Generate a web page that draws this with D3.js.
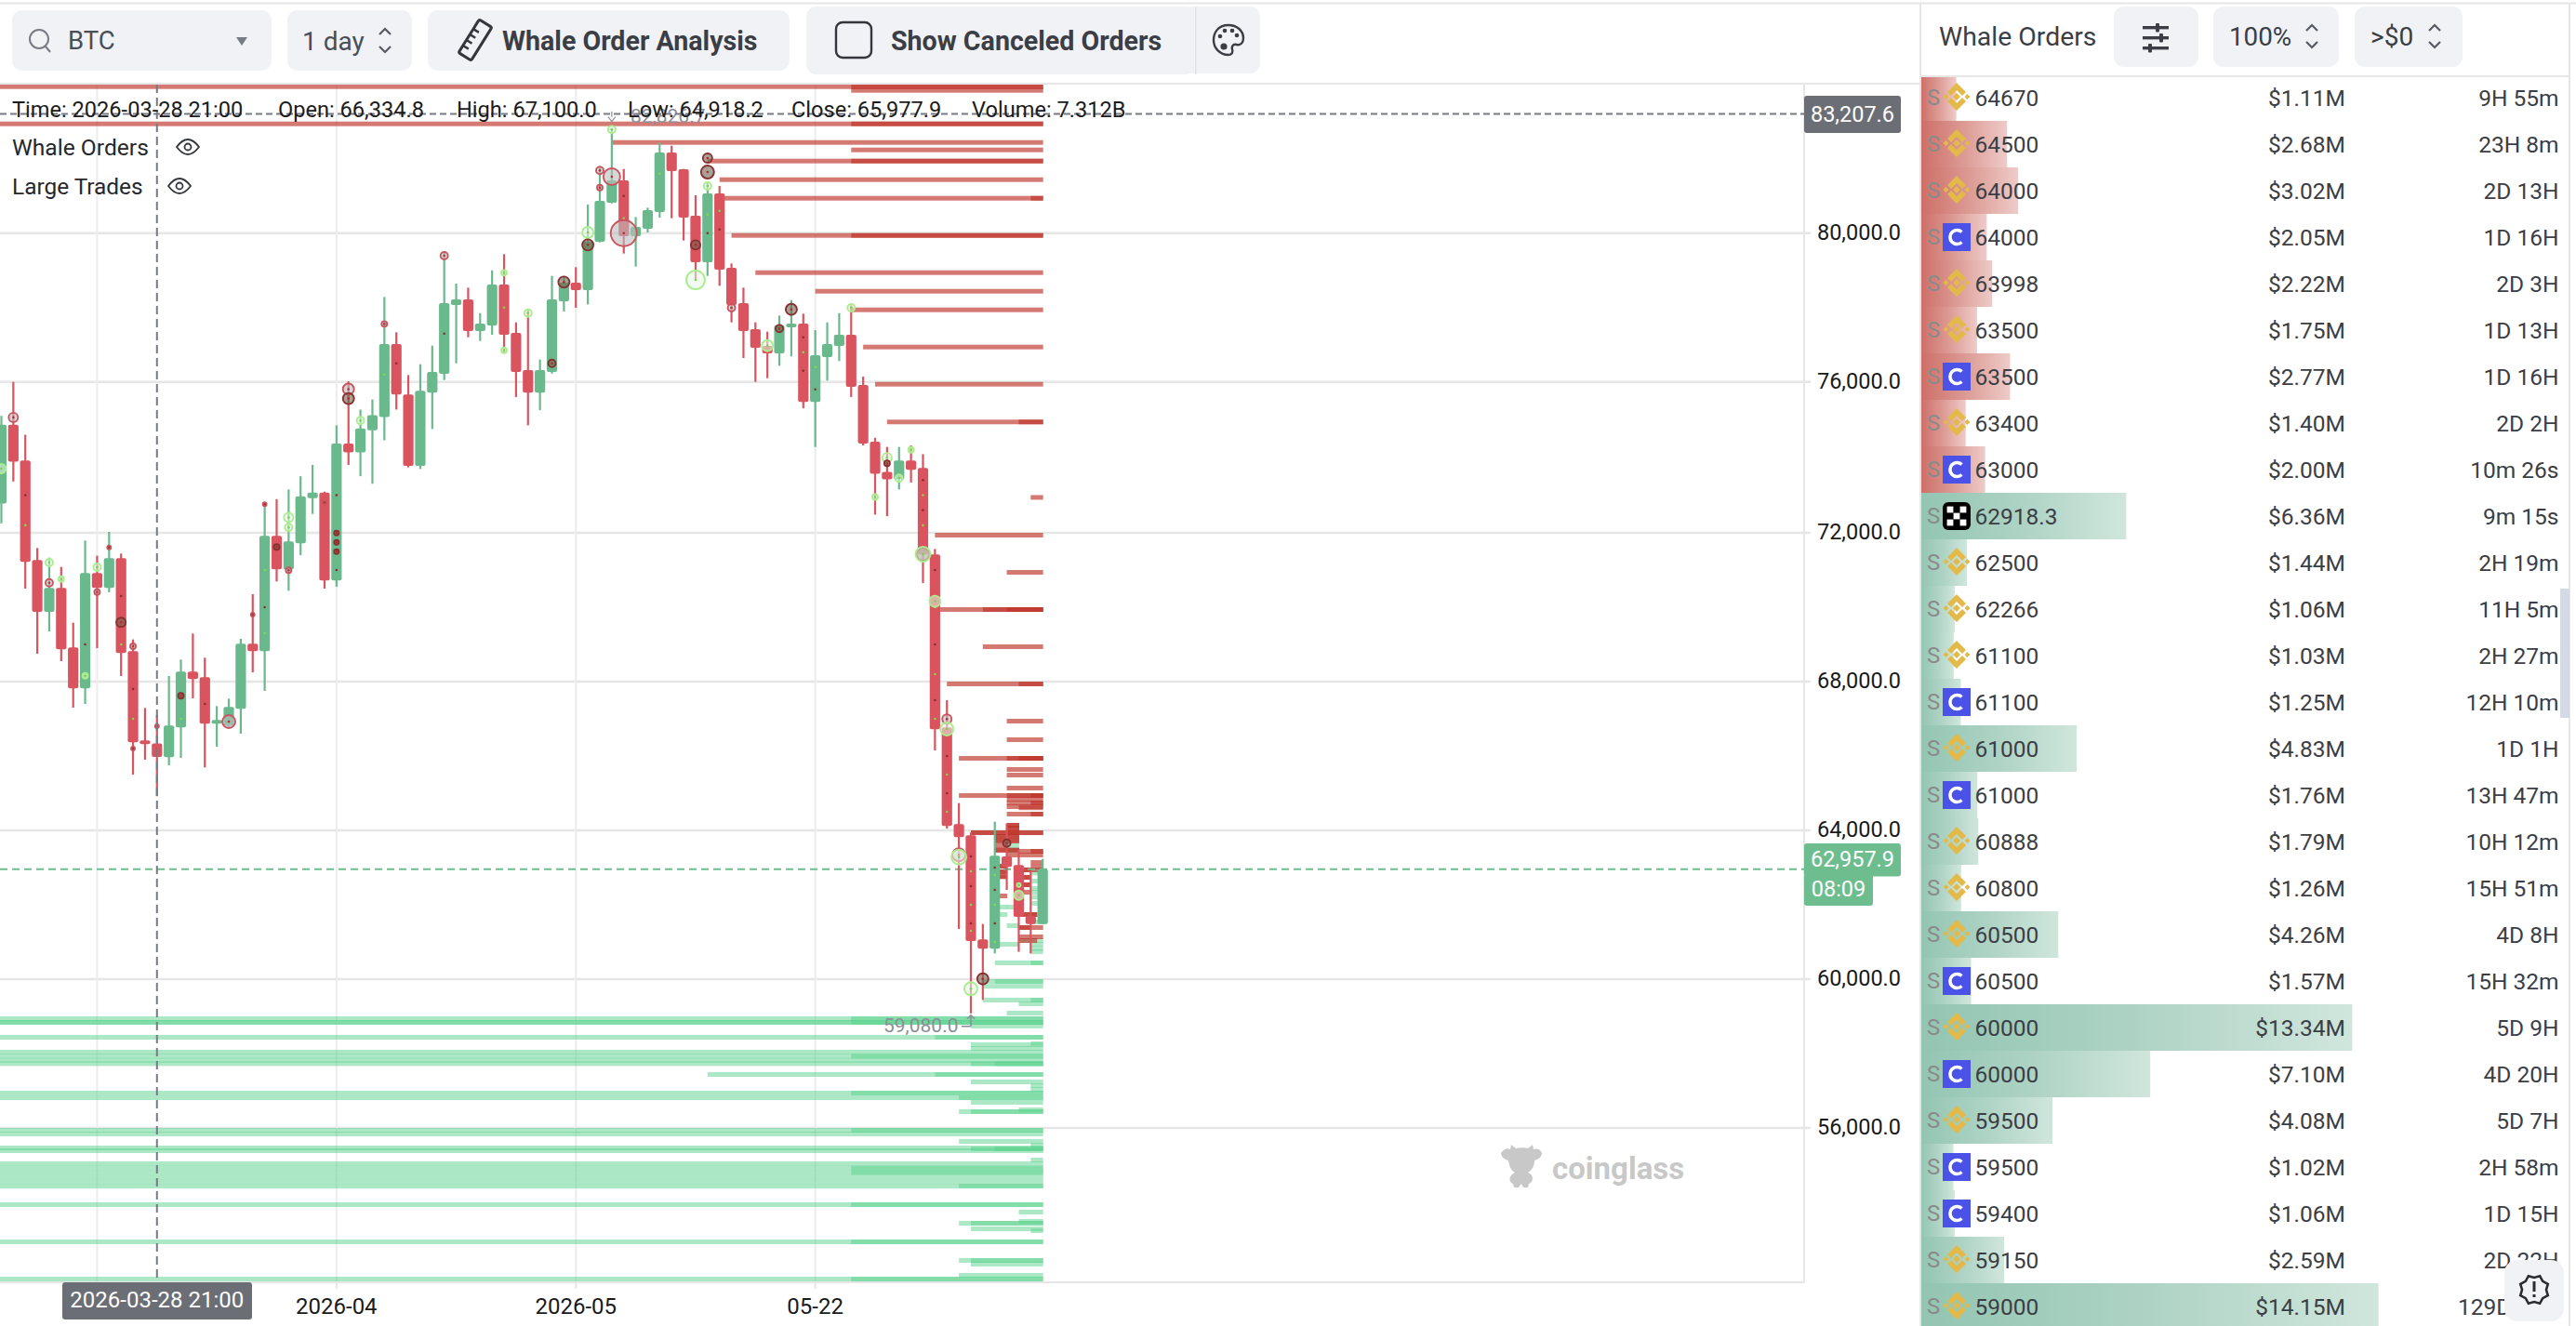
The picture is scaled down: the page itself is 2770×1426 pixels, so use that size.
<!DOCTYPE html>
<html><head><meta charset="utf-8">
<script src="https://cdn.jsdelivr.net/npm/d3@7/dist/d3.min.js"></script>
<style>
html,body{margin:0;padding:0;background:#fff;overflow:hidden}
svg{display:block}
text{font-family:Roboto,"Open Sans",sans-serif}
</style></head><body>
<svg id="c" width="2770" height="1426" viewBox="0 0 2770 1426"></svg>
<script>
// ---------- candles (one entry per bar, index order) ----------
const opens=[72775,74867,73917,71267,69875,70517,68917,67817,70917,70517,71317,68817,66417,66334.8,65967,66767,68267,68117,66867,66817,67267,69017,68817,71917,71017,71717,72917,73067,70717,74367,74134,74717,75067,77017,75667,73775,75717,76217,78067,78217,77367,77517,78617,77317,76317,75717,76267,78167,78667,78467,79767,80817,81417,79917,80117,80567,82167,81717,80467,79217,81067,79067,78117,77417,76967,76767,77467,77567,75467,76667,76967,77267,75917,74417,73617,73417,73917,73717,71417,66767,64167,63867,61067,60817,63300,63067,61692,61484];
const highs=[75100,76000,74600,71592,71334,71084,69584,71792,71384,72025,71442,69134,67292,67100,68150,68592,69292,68642,67342,67542,69150,70350,72792,72892,73150,73500,73800,73092,74850,76017,75267,75534,78284,77334,76184,76475,76975,79475,78642,78534,77850,79000,79434,77600,77934,76600,78850,78850,79084,80767,81809,82826.7,81725,80434,80684,82434,82350,81725,81017,81350,81267,79184,78534,77600,77350,77784,78200,77834,77392,77600,77850,78059,76142,74517,74275,74275,74317,74084,71567,67500,64734,63942,61484,64234,64184,63484,62900,63234];
const lows=[72250,73359,70500,68750,69350,68550,67300,67400,68900,70400,68150,65500,65900,64918.2,65750,65950,67550,65692,66250,66750,66600,68250,67750,70692,70442,71400,72500,70500,70550,73800,73500,73300,74450,75267,73734,73692,74750,76050,76500,77200,77100,77267,76767,75600,74850,75250,76225,77892,77992,78084,79750,80800,79450,79100,80017,80417,80400,79800,78767,78850,78584,77600,76642,76000,76100,76434,76684,75300,74275,76034,76559,75600,74317,72484,72442,73150,73334,70650,66150,64050,61350,59080,59442,60692,62400,60734,60692,61484];
const closes=[74867,73884,71217,69875,70517,68867,67817,70917,70517,71317,68767,66367,66317,65977.9,66817,68267,68067,66867,66967,67317,69017,68817,71917,71017,71767,72967,73067,70717,74367,74134,74767,75117,77017,75667,73775,75767,76267,78117,78217,77367,77567,78617,77267,76267,75717,76317,78217,78667,78467,79767,80867,81417,79917,80167,80617,82167,81667,80417,79217,81067,79017,78067,77367,76917,76767,77517,77567,75467,76717,77017,77267,75867,74367,73567,73417,73917,73667,71417,66717,64117,63817,61025,60817,63317,63017,61675,61484,62957.9];

// ---------- whale orders: price, first bar, last bar ----------
const L=-120;
const sellOrders=[[84000,L,87],[84000,71,87],[83900,71,87],[83000,L,87],[83000,71,87],[82500,51,87],[82300,71,87],[82000,59,87],[82000,71,87],[81500,60,87],[81000,60.4,87],[81000,86,87],[80000,61,87],[80000,71,87],[79000,63,87],[78500,68,87],[78000,71,87],[77000,72,87],[76000,73,87],[75000,74,87],[75000,85,87],[73000,86,87],[72000,78,87],[71000,84,87],[70000,78,87],[70000,82,87],[70000,84,87],[69000,82,87],[68000,79,87],[68000,85,87],[67000,84,87],[66500,84,87],[66000,80,87],[66000,84,87],[66000,85,87],[65700,84,87],[65550,84,87],[65200,84,87],[65000,80,87],[65000,84,87],[65000,86,87],[64900,84,87],[64800,84,87],[64800,86,87],[64700,84,87],[64670,85,87],[64500,84,87],[64500,86,87],[64200,84,85],[64200,84,85],[64120,84,85],[64120,84,85],[64000,81,87],[64000,81,85],[63998,84,87],[63900,83,85],[63900,83,85],[63780,83,85],[63780,83,85],[63650,83,84],[63530,83,85],[63530,83,85],[63500,85,87],[63500,86,87],[63400,84,85],[63400,85,87],[63200,86,87],[63100,83,84],[63100,83,84],[63080,86,87],[63000,85,87],[63000,85,86],[62950,83,84],[62950,83,84],[62820,83,84],[62820,83,84],[62800,85,86],[62800,85,86],[62600,85,86],[62600,85,86],[62400,85,86],[62300,83.3,84],[61800,85,86.5],[61800,85,86.5],[61450,85,87],[61450,85,86],[61200,85,87],[61100,85,86.5]];
const buyOrders=[[63650,84,85],[63530,84,85],[62918.3,86,87],[62700,86,87],[62500,86,87],[62400,86,87],[62266,86,87],[62100,86,87],[62000,83,84],[62000,84,85],[61800,83,84],[61800,86,87],[61600,86,87],[61500,84,85],[61100,85,86],[61100,86,87],[61000,83,85],[61000,86,87],[60888,86,87],[60800,86,87],[60500,83,87],[60500,86,87],[60000,82,87],[60000,83,87],[59870,82,87],[59500,82,87],[59500,86,87],[59400,85,87],[59150,84,87],[59000,L,87],[59000,71,87],[58900,L,87],[58900,L,87],[58900,71,87],[58800,81,87],[58500,L,87],[58500,78,87],[58330,86,87],[58300,81,87],[58200,81,87],[58100,L,87],[57990,L,87],[57990,71,87],[57880,L,87],[57790,L,87],[57790,81,87],[57790,83,87],[57500,59,87],[57500,78,87],[57300,81,87],[57200,86,87],[57100,86,87],[57000,L,87],[57000,71,87],[56875,L,87],[56875,80,87],[56750,81,87],[56550,85,87],[56500,80,87],[56500,81,87],[56000,L,87],[56000,71,87],[55900,L,87],[55700,80,87],[55600,86,87],[55525,L,87],[55450,L,87],[55500,81,87],[55500,83,87],[55200,86,87],[55100,L,87],[54980,L,87],[54980,71,87],[54860,L,87],[54860,71,87],[54740,L,87],[54620,L,87],[54500,L,87],[54500,80,87],[54000,L,87],[54000,71,87],[53800,85,87],[53550,85,87],[53500,80,87],[53500,81,87],[53350,81,87],[53300,86,87],[53000,L,87],[53000,71,87],[52500,80,87],[52500,81,87],[52400,81,87],[52100,80,87],[52000,L,87],[52000,71,87]];

// ---------- large trades: bar, price, size, side ----------
const tradeBar=[52,51,49,49,50,50,51,47,59,59,59,58,58,66,71,61,64,65,37,44,42,42,46,32,29,29,1,30,0,4,4,5,7,8,8,9,10,11,11,13,15,19,21,22,23,24,24,24,27,28,28,28,74,74,75,76,73,77,77,78,79,79,80,80,81,82,85,85,84];
const tradePrice=[80000,81517,80017,79684,81684,81225,82784,78684,82017,81642,81267,78742,79684,77950,77992,77992,76975,77434,79392,77850,78934,76850,76500,77559,75809,75559,75058,74975,73700,71200,70658,70758,68158,71075,70408,71608,69592,68950,66200,66800,67617,66925,69800,72758,71617,72408,72142,70992,72808,71992,71742,71492,73992,73842,73450,74200,72950,71425,71425,70158,66992,66725,63342,63283,59742,60008,62258,62533,63658];
const tradeSize=[14,9,6,6,4,3,4,6,5,7,4,10,5,6,4,4,6,4,4,4,3,3,4,3,6,6,5,4,5,4,4,3,3,4,3,2,5,3,2,2,3,7,2,2,3,5,4,3,2,2.5,2.5,2.5,5,3,4,3,3,7,8,6,5,7,7,8,7,6,5,2,4];
const tradeSide=["r","r","g","d","r","r","g","d","d","d","g","g","d","d","g","r","g","d","r","g","g","g","d","r","r","d","r","g","g","g","r","g","g","g","r","r","d","r","r","r","d","r","r","r","d","g","g","r","r","d","d","d","g","d","g","g","g","d","g","g","r","g","r","g","g","d","g","g","d"];
const speckBar=[78,78,78,78,78,78,79,79,79,79,81,81,81,81,81,81,83,83,83,83,83,83,77,77,77,77,67,67,67,68,68,60,60,59,59,55,52,52,37,42,33,32,28,28,28,22,22,22,10,10,7,7,2,2,11,11,17,15];
const speckPrice=[71000,70000,69000,68200,67500,67000,66000,65500,65000,64500,63300,62900,62500,62000,61500,61300,63000,62800,62400,62000,61500,61000,73400,73000,72600,72200,77200,76800,76300,76400,75800,80600,80100,80500,80000,81600,81000,80400,77300,78000,76500,76200,73000,72000,71000,71000,70000,69300,70300,69000,69000,68200,73000,72200,67800,67000,67400,67000];

// ---------- axes ----------
const priceTicks=[80000,76000,72000,68000,64000,60000,56000];
const gridBars=[8,28,48,68];
const timeTickBars=[28,48,68];
const timeTickLabels=["2026-04","2026-05","05-22"];
const crossBar=13, crossPrice=83207.6, lastPrice=62957.9;

// ---------- order book table ----------
const rowPrices=["64670","64500","64000","64000","63998","63500","63500","63400","63000","62918.3","62500","62266","61100","61100","61000","61000","60888","60800","60500","60500","60000","60000","59500","59500","59400","59150","59000"];
const rowExchanges=["B","B","B","C","B","B","C","B","C","O","B","B","B","C","B","C","B","B","B","C","B","C","B","C","C","B","B"];
const rowAmounts=[1.11,2.68,3.02,2.05,2.22,1.75,2.77,1.40,2.00,6.36,1.44,1.06,1.03,1.25,4.83,1.76,1.79,1.26,4.26,1.57,13.34,7.10,4.08,1.02,1.06,2.59,14.15];
const rowTimes=["9H 55m","23H 8m","2D 13H","1D 16H","2D 3H","1D 13H","1D 16H","2D 2H","10m 26s","9m 15s","2H 19m","11H 5m","2H 27m","12H 10m","1D 1H","13H 47m","10H 12m","15H 51m","4D 8H","15H 32m","5D 9H","4D 20H","5D 7H","2H 58m","1D 15H","2D 22H","129D 19H"];
const rowSides=["sell","sell","sell","sell","sell","sell","sell","sell","sell","buy","buy","buy","buy","buy","buy","buy","buy","buy","buy","buy","buy","buy","buy","buy","buy","buy","buy"];

// ---------- scales ----------
const x=d3.scaleLinear().domain([0,87]).range([1.47,1121.2]);
const y=d3.scaleLinear().domain([56000,72000,76000,84000]).range([1213,573,410.7,90.7]);
const rScale=d3.scaleLinear().domain([0,14]).range([0,14]);
const rowY=d3.scaleLinear().domain([0,26]).range([105,1405]);
const amountW=d3.scaleLinear().domain([0,14.15]).range([0,492.6]);
const fmtP=d3.format(",.1f");

const RED="#d9545f",GREEN="#69b98d",GRID="#e6e6e6",TXT="#3b3e45",BTN="#f0f2f5",GREY="#6b6e75";
const svg=d3.select("#c");
const defs=svg.append("defs");
defs.append("clipPath").attr("id","plot").append("rect").attr("x",0).attr("y",91).attr("width",1940).attr("height",1288);
defs.append("clipPath").attr("id","rows").append("rect").attr("x",2066).attr("y",83).attr("width",697).attr("height",1343);
function grad(id,a,b,c){const g=defs.append("linearGradient").attr("id",id);
  g.append("stop").attr("offset","0").attr("stop-color",a);
  g.append("stop").attr("offset","0.5").attr("stop-color",b);
  g.append("stop").attr("offset","1").attr("stop-color",c);}
grad("gsell","#cd6e67","#dc9a94","#eecbc8");
grad("gbuy","#93c5b2","#aed3c5","#d0e6dc");

function btn(x0,y0,w,h,r){return svg.append("rect").attr("x",x0).attr("y",y0).attr("width",w).attr("height",h).attr("rx",r||11).attr("fill",BTN);}
function label(s,x0,y0,size,opt){opt=opt||{};return svg.append("text").attr("x",x0).attr("y",y0).attr("font-size",size).attr("dominant-baseline","central")
  .attr("fill",opt.fill||TXT).attr("font-weight",opt.weight||400).attr("text-anchor",opt.anchor||"start").text(s);}

// page frame
svg.append("rect").attr("x",0).attr("y",2.5).attr("width",2770).attr("height",2).attr("fill",GRID);
svg.append("rect").attr("x",0).attr("y",89).attr("width",2065).attr("height",2).attr("fill",GRID);
svg.append("rect").attr("x",2064).attr("y",3).attr("width",2).attr("height",1423).attr("fill",GRID);
svg.append("rect").attr("x",2762).attr("y",3).attr("width",2).attr("height",1423).attr("fill",GRID);
svg.append("rect").attr("x",2065).attr("y",81).attr("width",698).attr("height",2).attr("fill",GRID);

// toolbar
btn(13,11,279,65);
svg.append("circle").attr("cx",42).attr("cy",42).attr("r",10).attr("fill","none").attr("stroke","#777b83").attr("stroke-width",2);
svg.append("line").attr("x1",49).attr("y1",50).attr("x2",54).attr("y2",56).attr("stroke","#777b83").attr("stroke-width",2);
label("BTC",73,43,27.5,{fill:"#4a4e57"});
svg.append("path").attr("d","M254,40 h12 l-6,9 z").attr("fill","#777b83");
btn(309,11,134,65);
label("1 day",325,44,28,{fill:"#4a4e57"});
svg.append("path").attr("d","M408,37 l6,-6 l6,6 M408,50 l6,6 l6,-6").attr("fill","none").attr("stroke","#555a63").attr("stroke-width",2.2);
btn(460,11,389,65);
svg.append("g").attr("transform","translate(511,43) rotate(-58)").call(g=>{
  g.append("rect").attr("x",-21).attr("y",-8).attr("width",42).attr("height",16).attr("rx",2).attr("fill","none").attr("stroke","#33363c").attr("stroke-width",3);
  [-12,-5,2,9].forEach(t=>g.append("line").attr("x1",t).attr("x2",t).attr("y1",-8).attr("y2",-1).attr("stroke","#33363c").attr("stroke-width",2.5));
});
label("Whale Order Analysis",540,44,28.6,{weight:700});
btn(867,7,418,73);
svg.append("rect").attr("x",899).attr("y",24).attr("width",38).attr("height",38).attr("rx",7).attr("fill","none").attr("stroke","#33363c").attr("stroke-width",2.4);
label("Show Canceled Orders",958,44,28.6,{weight:700});
btn(1270,7,85,72);
svg.append("rect").attr("x",1285).attr("y",7).attr("width",1.5).attr("height",73).attr("fill","#dfe4e6");
svg.append("g").attr("transform","translate(1321,43)").call(g=>{
  g.append("path").attr("d","M0,-16 C-12,-16 -16,-7 -16,0 C-16,9 -9,16 0,16 C4,16 5,13 4,10 C3,6 6,4 9,5 C13,6 16,3 16,-2 C16,-10 9,-16 0,-16 Z").attr("fill","none").attr("stroke","#3b3e45").attr("stroke-width",2.4);
  [[-9,-4,2.3],[-4,-10,2.3],[4,-10,2.3],[9,-5,2.3],[-5,7,3.6]].forEach(d=>g.append("circle").attr("cx",d[0]).attr("cy",d[1]).attr("r",d[2]).attr("fill","#3b3e45"));
});

// grid
const grid=svg.append("g");
grid.selectAll("line.h").data(priceTicks).join("line").attr("class","h").attr("x1",0).attr("x2",1947).attr("y1",d=>y(d)).attr("y2",d=>y(d)).attr("stroke",GRID).attr("stroke-width",2.4);
grid.selectAll("line.v").data(gridBars).join("line").attr("class","v").attr("x1",d=>x(d)).attr("x2",d=>x(d)).attr("y1",91).attr("y2",1379).attr("stroke","#ececec").attr("stroke-width",2);
svg.append("rect").attr("x",1939).attr("y",91).attr("width",2).attr("height",1289).attr("fill",GRID);
svg.append("rect").attr("x",0).attr("y",1378).attr("width",1941).attr("height",2).attr("fill",GRID);

const plot=svg.append("g").attr("clip-path","url(#plot)");

// whale orders
function orderBars(data,fill,op){
  plot.append("g").selectAll("rect").data(data).join("rect")
   .attr("x",d=>x(d[1])).attr("width",d=>x(d[2])-x(d[1])+0.5)
   .attr("y",d=>y(d[0])).attr("height",5).attr("fill",fill).attr("fill-opacity",op);
}
orderBars(buyOrders,"rgb(90,210,140)",0.5);
orderBars(sellOrders,"rgb(190,50,40)",0.65);

// last price line (behind candles)
plot.append("line").attr("x1",0).attr("x2",1940).attr("y1",y(lastPrice)).attr("y2",y(lastPrice)).attr("stroke","#6dbd8f").attr("stroke-width",2).attr("stroke-dasharray","8 5");

// candles
const candles=opens.map((o,i)=>({i,o,h:highs[i],l:lows[i],c:closes[i]}));
const cg=plot.append("g").selectAll("g").data(candles).join("g");
cg.append("line").attr("x1",d=>x(d.i)).attr("x2",d=>x(d.i)).attr("y1",d=>y(d.h)).attr("y2",d=>y(d.l))
  .attr("stroke",d=>d.c>=d.o?GREEN:RED).attr("stroke-width",2.2);
cg.append("rect").attr("x",d=>x(d.i)-5.6).attr("width",11.2).attr("y",d=>y(Math.max(d.o,d.c))).attr("height",d=>Math.max(2,Math.abs(y(d.o)-y(d.c))))
  .attr("rx",2).attr("fill",d=>d.c>=d.o?GREEN:RED);

// small trades
plot.append("g").selectAll("circle").data(speckBar.map((b,i)=>({b,p:speckPrice[i],i}))).join("circle")
  .attr("cx",d=>x(d.b)).attr("cy",d=>y(d.p)).attr("r",1.3).attr("fill",d=>d.i%2?"#7edb52":"#8d2c30");

// large trades
const sideStyle={g:{f:"rgba(232,248,232,.55)",s:"#a9ee8c",dot:"#7ccf5e"},r:{f:"rgba(190,188,190,.6)",s:"#c9545e",dot:"#a8323a"},d:{f:"rgba(110,100,80,.6)",s:"#8a2f2f",dot:"#b7252c"}};
const trades=tradeBar.map((b,i)=>({b,p:tradePrice[i],r:tradeSize[i],s:tradeSide[i]}));
const tg=plot.append("g").selectAll("g").data(trades).join("g");
tg.append("circle").attr("cx",d=>x(d.b)).attr("cy",d=>y(d.p)).attr("r",d=>rScale(d.r))
  .attr("fill",d=>sideStyle[d.s].f).attr("stroke",d=>sideStyle[d.s].s).attr("stroke-width",1.9);
tg.append("circle").attr("cx",d=>x(d.b)).attr("cy",d=>y(d.p)).attr("r",1.3).attr("fill",d=>sideStyle[d.s].dot);

// high / low notes
label("82,826.7",678,125,21,{fill:"#8b8f99"});
plot.append("path").attr("d",`M${x(51)},${y(82826.7)-12} v-6 M${x(51)-4},${y(82826.7)-12} l4,5 l4,-5`).attr("fill","none").attr("stroke","#8b8f99").attr("stroke-width",1.2);
label("59,080.0",950,1103,21,{fill:"#8b8f99"});
plot.append("path").attr("d",`M${x(81)-10},${y(59080)+14} h10 M${x(81)},${y(59080)+14} v-12 M${x(81)-4},${y(59080)+6} l4,-4 l4,4`).attr("fill","none").attr("stroke","#8b8f99").attr("stroke-width",1.6);

// crosshair
svg.append("line").attr("x1",0).attr("x2",1940).attr("y1",y(crossPrice)).attr("y2",y(crossPrice)).attr("stroke","#767a85").attr("stroke-width",2).attr("stroke-dasharray","7 4");
svg.append("line").attr("x1",x(crossBar)).attr("x2",x(crossBar)).attr("y1",91).attr("y2",1379).attr("stroke","#767a85").attr("stroke-width",2).attr("stroke-dasharray","9 5");

// legend
const legendItems=[["Time: 2026-03-28 21:00",13],["Open: 66,334.8",299],["High: 67,100.0",491],["Low: 64,918.2",675],["Close: 65,977.9",851],["Volume: 7.312B",1045]];
legendItems.forEach(d=>label(d[0],d[1],118,23.6,{fill:"#1c1c1c"}));
label("Whale Orders",13,158,24.6,{fill:"#26282d"});
label("Large Trades",13,200,24.4,{fill:"#26282d"});
[[202,158],[193,200]].forEach(p=>{
  svg.append("path").attr("d",`M${p[0]-12},${p[1]} Q${p[0]},${p[1]-16} ${p[0]+12},${p[1]} Q${p[0]},${p[1]+16} ${p[0]-12},${p[1]} Z`).attr("fill","none").attr("stroke","#33363c").attr("stroke-width",1.8);
  svg.append("circle").attr("cx",p[0]).attr("cy",p[1]).attr("r",3.5).attr("fill","none").attr("stroke","#33363c").attr("stroke-width",1.8);
});

// price axis labels
svg.append("g").selectAll("text").data(priceTicks).join("text")
  .attr("x",2044).attr("y",d=>y(d)-1).attr("text-anchor","end").attr("dominant-baseline","central").attr("font-size",23.5).attr("fill","#1a1a1a").text(d=>fmtP(d));
svg.append("rect").attr("x",1940).attr("y",103).attr("width",104).attr("height",40).attr("rx",3).attr("fill",GREY);
label(fmtP(crossPrice),1992,123,23.5,{fill:"#fff",anchor:"middle"});
svg.append("rect").attr("x",1940).attr("y",907).attr("width",104).attr("height",35.5).attr("rx",3).attr("fill","#6dbd8f");
svg.append("rect").attr("x",1940).attr("y",940).attr("width",74).attr("height",34).attr("rx",3).attr("fill","#6dbd8f");
label(fmtP(lastPrice),1992,924,23.5,{fill:"#fff",anchor:"middle"});
label("08:09",1977,956,23.5,{fill:"#fff",anchor:"middle"});

// time axis labels
svg.append("g").selectAll("line").data(timeTickBars).join("line").attr("x1",d=>x(d)).attr("x2",d=>x(d)).attr("y1",1379).attr("y2",1386).attr("stroke",GRID).attr("stroke-width",2);
svg.append("g").selectAll("text").data(timeTickBars).join("text").attr("x",d=>x(d)).attr("y",1405).attr("text-anchor","middle").attr("dominant-baseline","central")
  .attr("font-size",24).attr("fill","#1a1a1a").text((d,i)=>timeTickLabels[i]);
svg.append("rect").attr("x",67).attr("y",1379).attr("width",204).attr("height",40).attr("rx",3).attr("fill",GREY);
label("2026-03-28 21:00",x(crossBar),1398,24,{fill:"#fff",anchor:"middle"});

// watermark
svg.append("g").attr("transform","translate(1636,1254)").attr("fill","#c8c8c8").call(g=>{
  g.append("path").attr("d","M-22,-14 C-18,-20 -14,-19 -12,-18 L-11,-23 L-6,-19 C-2,-20 4,-20 7,-19 L12,-23 L13,-18 C16,-19 20,-19 22,-14 C22,-10 18,-7 14,-6 C14,0 11,5 7,7 C14,10 13,17 8,19 L7,23 L2,23 L0,19 L-3,23 L-8,23 L-9,19 C-14,17 -14,10 -7,7 C-11,5 -13,0 -14,-6 C-18,-7 -22,-10 -22,-14 Z");
});
label("coinglass",1669,1256,33,{fill:"#c8c8c8",weight:700});

// panel header
label("Whale Orders",2085,39,28.4);
btn(2273,7,91,65);
[[28,10],[39,20],[50,12]].forEach((d,i)=>{
  svg.append("rect").attr("x",2304).attr("y",d[0]).attr("width",28).attr("height",3.4).attr("fill","#3b3e45");
  svg.append("rect").attr("x",2304+[14,18,6][i]).attr("y",d[0]-3).attr("width",4).attr("height",9.5).attr("rx",1).attr("fill","#3b3e45");
});
btn(2380,7,135,65);
label("100%",2397,39,27.8);
svg.append("path").attr("d","M2480,33 l6,-6 l6,6 M2480,45 l6,6 l6,-6").attr("fill","none").attr("stroke","#555a63").attr("stroke-width",2.2);
btn(2532,7,116,65);
label(">$0",2549,39,28);
svg.append("path").attr("d","M2612,33 l6,-6 l6,6 M2612,45 l6,6 l6,-6").attr("fill","none").attr("stroke","#555a63").attr("stroke-width",2.2);

// table
const rows=rowPrices.map((p,i)=>({p,i,e:rowExchanges[i],a:rowAmounts[i],t:rowTimes[i],s:rowSides[i]}));
const rg=svg.append("g").attr("clip-path","url(#rows)").selectAll("g").data(rows).join("g").attr("transform",d=>`translate(0,${rowY(d.i)})`);
rg.append("rect").attr("x",2065).attr("y",-25).attr("height",50).attr("width",d=>amountW(d.a)).attr("fill",d=>`url(#g${d.s})`);
rg.append("text").attr("x",2072).attr("dominant-baseline","central").attr("font-size",24).attr("fill","#8a8a8a").text("S");
rg.append("text").attr("x",2123.5).attr("dominant-baseline","central").attr("font-size",24.5).attr("fill",TXT).text(d=>d.p);
rg.append("text").attr("x",2522).attr("text-anchor","end").attr("dominant-baseline","central").attr("font-size",24.5).attr("fill",TXT).text(d=>"$"+d3.format(".2f")(d.a)+"M");
rg.append("text").attr("x",2751.5).attr("text-anchor","end").attr("dominant-baseline","central").attr("font-size",24.5).attr("fill",TXT).text(d=>d.t);
rg.each(function(d){
  const g=d3.select(this).append("g").attr("transform","translate(2104,-1)");
  if(d.e==="B"){
    const c="#e3b94a";
    g.append("path").attr("fill",c).attr("d","M0,-15 L10,-5 L6,-1 L0,-7 L-6,-1 L-10,-5 Z M0,15 L10,5 L6,1 L0,7 L-6,1 L-10,5 Z M0,-4 L4,0 L0,4 L-4,0 Z M-11.5,-3 L-8.5,0 L-11.5,3 L-14.5,0 Z M11.5,-3 L14.5,0 L11.5,3 L8.5,0 Z");
  }else if(d.e==="C"){
    g.append("rect").attr("x",-15).attr("y",-14).attr("width",30).attr("height",30).attr("fill","#4a52e8");
    g.append("path").attr("d","M5,-5 A7.5,7.5 0 1 0 5,6").attr("fill","none").attr("stroke","#fff").attr("stroke-width",3.6).attr("transform","translate(0.5,0.5)");
  }else{
    g.append("rect").attr("x",-15).attr("y",-14).attr("width",30).attr("height",30).attr("rx",6).attr("fill","#000");
    [[-7,-6],[7,-6],[0,1],[-7,8],[7,8]].forEach(q=>g.append("rect").attr("x",q[0]-3.4).attr("y",q[1]-3.4).attr("width",6.8).attr("height",6.8).attr("fill","#fff"));
  }
});

// scrollbar + feedback button
svg.append("rect").attr("x",2753).attr("y",633).attr("width",10).attr("height",139).attr("fill","#d5d9e6");
btn(2693,1355,64,66,14);
svg.append("g").attr("transform","translate(2725,1387)").call(g=>{
  const n=8, pts=d3.range(n*2).map(i=>{const r=i%2?16:13,a=Math.PI*i/n;return [r*Math.cos(a),r*Math.sin(a)];});
  g.append("polygon").attr("points",pts.map(p=>p.join(",")).join(" ")).attr("fill","none").attr("stroke","#2a2c31").attr("stroke-width",2.6);
  g.append("rect").attr("x",-1.5).attr("y",-9).attr("width",3).attr("height",11).attr("fill","#2a2c31");
  g.append("rect").attr("x",-1.5).attr("y",5).attr("width",3).attr("height",3).attr("fill","#2a2c31");
});
</script>
</body></html>
